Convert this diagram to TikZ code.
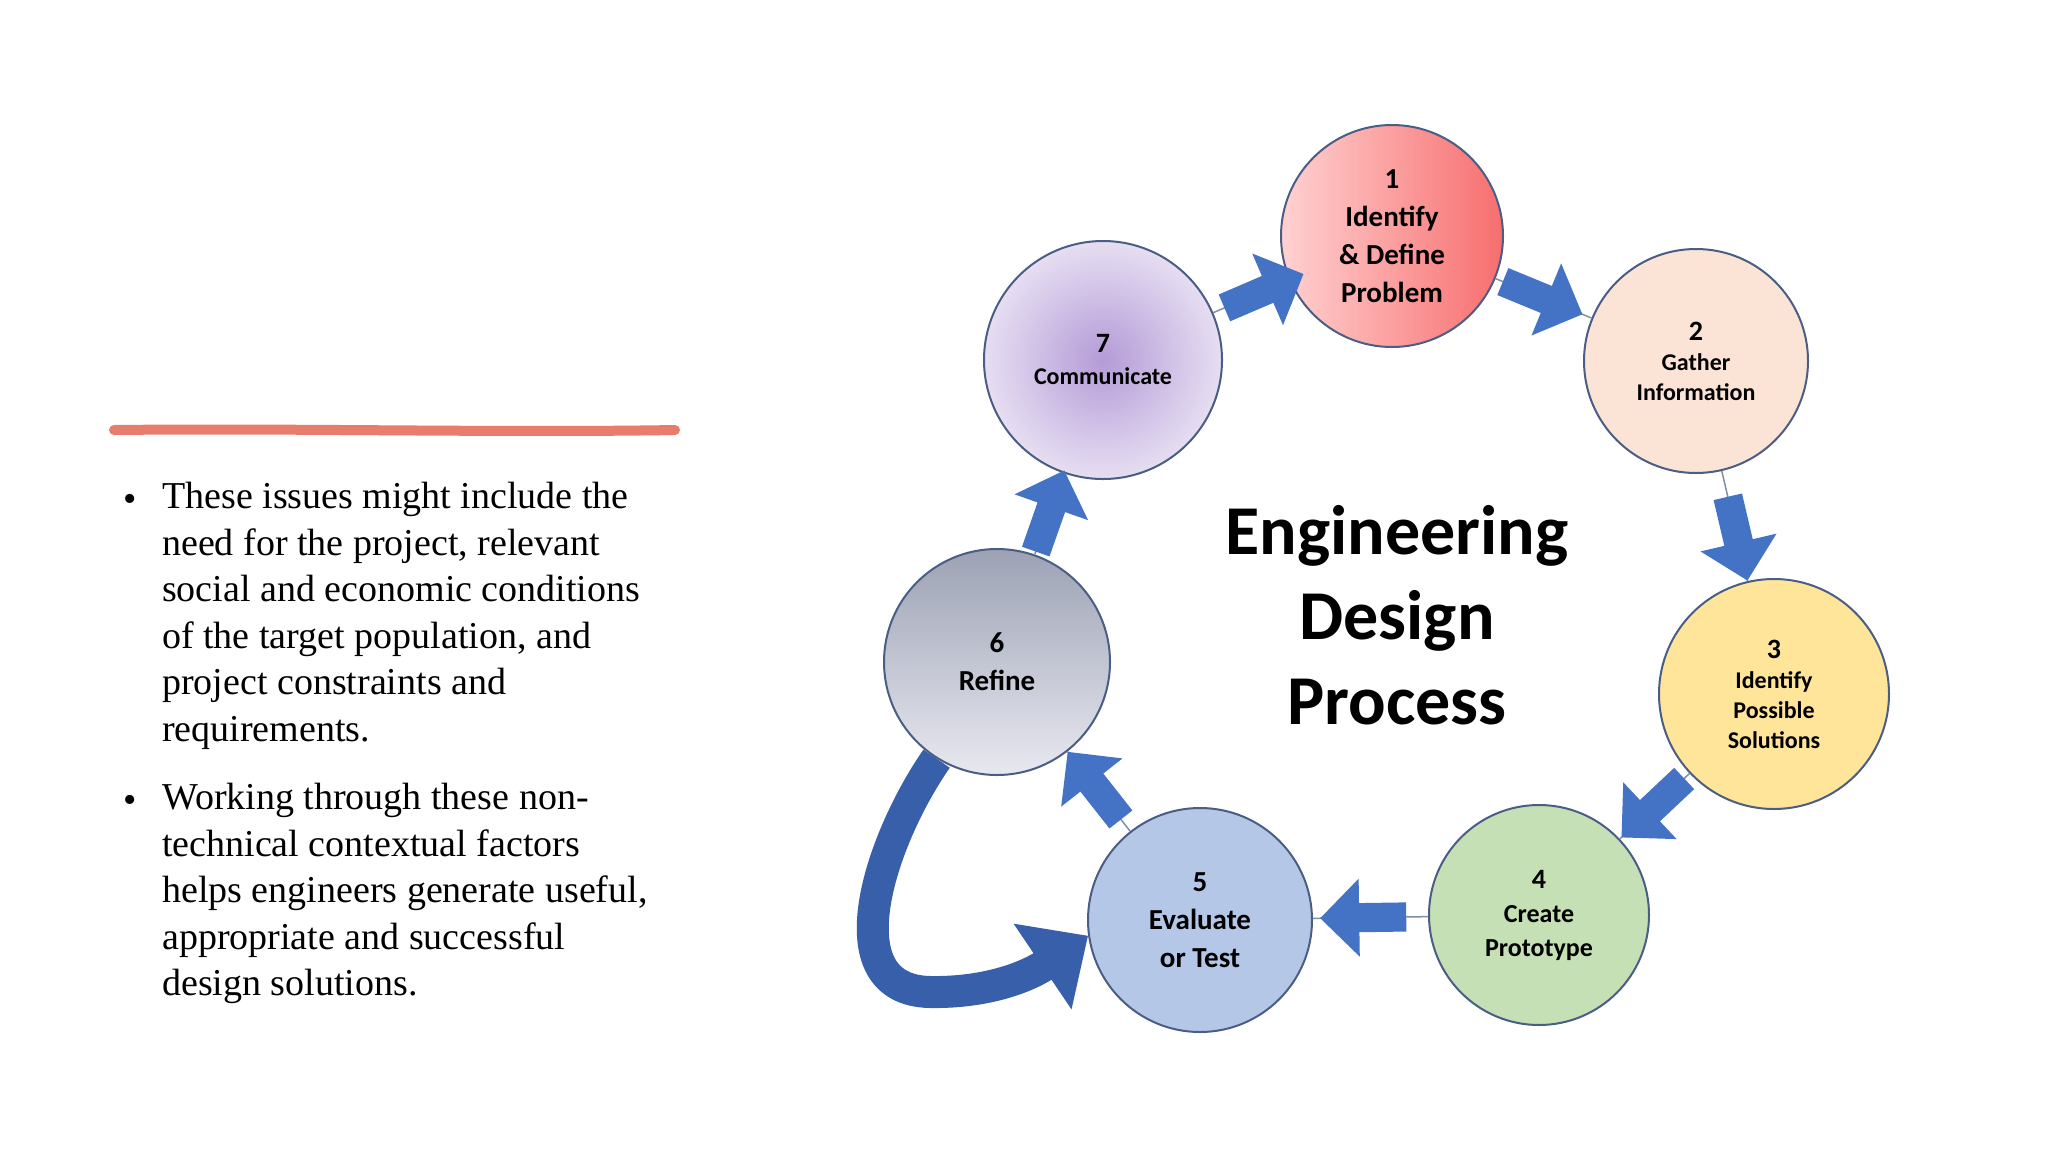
\documentclass[tikz,border=0pt]{standalone}
\usepackage{fontspec}
\setmainfont{Liberation Serif}
\newfontfamily\calfont{Carlito}
\usetikzlibrary{shapes.arrows,arrows.meta}
\definecolor{arr}{HTML}{4472C4}
\definecolor{bord}{HTML}{4A5D85}
\begin{document}
\begin{tikzpicture}[x=1pt,y=-1pt,
  stage/.style={circle,draw=bord,line width=2,minimum size=#1,inner sep=0,align=center,font=\calfont\bfseries\fontsize{29}{38}\selectfont},
  link/.style={draw=bord!70,line width=1.5},
  barrow/.style={single arrow,fill=arr,minimum height=86,minimum width=78,single arrow head extend=18,inner sep=10,sloped,allow upside down,pos=#1},
  bl/.style={font=\fontsize{38}{46.5}\selectfont,align=left,anchor=north west,inner sep=0},
  bul/.style={anchor=north,font=\fontsize{38}{46}\selectfont,inner sep=0}]
\useasboundingbox (0,0) rectangle (2048,1152);
\fill[white] (0,0) rectangle (2048,1152);
% left side
\draw[line width=10,color={rgb,255:red,232;green,125;blue,110},line cap=round] (114,430) coordinate(r0) .. controls (300,428) and (500,433) .. (675,430) coordinate(r1);
\node[bl] (t1) at (162,482) {These issues might include the\\need for the project, relevant\\social and economic conditions\\of the target population, and\\project constraints and\\requirements.};
\node[bul] (b1) at (130,494) {•};
\node[bl] (t2) at (162,783) {Working through these non-\\technical contextual factors\\helps engineers generate useful,\\appropriate and successful\\design solutions.};
\node[bul] (b2) at (130,795) {•};
% circles
\node[stage=222,left color=red!18,right color={rgb,255:red,247;green,110;blue,110}] (c1) at (1392,236) {1\\Identify\\\& Define\\Problem};
\node[stage=224,fill={rgb,255:red,251;green,228;blue,214},font=\calfont\bfseries\fontsize{24}{30}\selectfont] (c2) at (1696,361) {{\fontsize{28}{30}\selectfont 2}\\Gather\\Information};
\node[stage=230,fill={rgb,255:red,254;green,229;blue,154},font=\calfont\bfseries\fontsize{24}{30}\selectfont] (c3) at (1774,694) {{\fontsize{28}{30}\selectfont 3}\\Identify\\Possible\\Solutions};
\node[stage=220,fill={rgb,255:red,197;green,224;blue,180},font=\calfont\bfseries\fontsize{26}{34}\selectfont] (c4) at (1539,915) {{\fontsize{28}{34}\selectfont 4}\\Create\\Prototype};
\node[stage=224,fill={rgb,255:red,180;green,199;blue,231}] (c5) at (1200,920) {5\\Evaluate\\or Test};
\node[stage=226,top color={rgb,255:red,156;green,162;blue,180},bottom color={rgb,255:red,232;green,232;blue,240}] (c6) at (997,662) {6\\Refine};
\node[stage=238,inner color={rgb,255:red,180;green,155;blue,215},outer color={rgb,255:red,230;green,222;blue,242},font=\calfont\bfseries\fontsize{24}{32}\selectfont] (c7) at (1103,360) {{\fontsize{28}{32}\selectfont 7}\\Communicate};
% title
\node[font=\calfont\bfseries\fontsize{70}{85}\selectfont,align=center] (title) at (1397,615) {Engineering\\Design\\Process};
% links with block arrows
\path[link] (c7) -- node[barrow=0.58]{} (c1);
\path[link] (c1) -- node[barrow=0.42]{} (c2);
\path[link] (c2) -- node[barrow=0.55]{} (c3);
\path[link] (c3) -- node[barrow=0.45]{} (c4);
\path[link] (c4) -- node[barrow=0.5]{} (c5);
\path[link] (c5) -- node[barrow=0.5]{} (c6);
\path[link] (c6) -- node[barrow=0.45]{} (c7);
% curved return arrow
\draw[line width=32,color={rgb,255:red,55;green,95;blue,170},-{Triangle[length=55,width=100]}] (c6.238) .. controls (880,840) and (830,990) .. (930,992) .. controls (990,993) and (1030,975) .. (c5.188);
\end{tikzpicture}
\end{document}
